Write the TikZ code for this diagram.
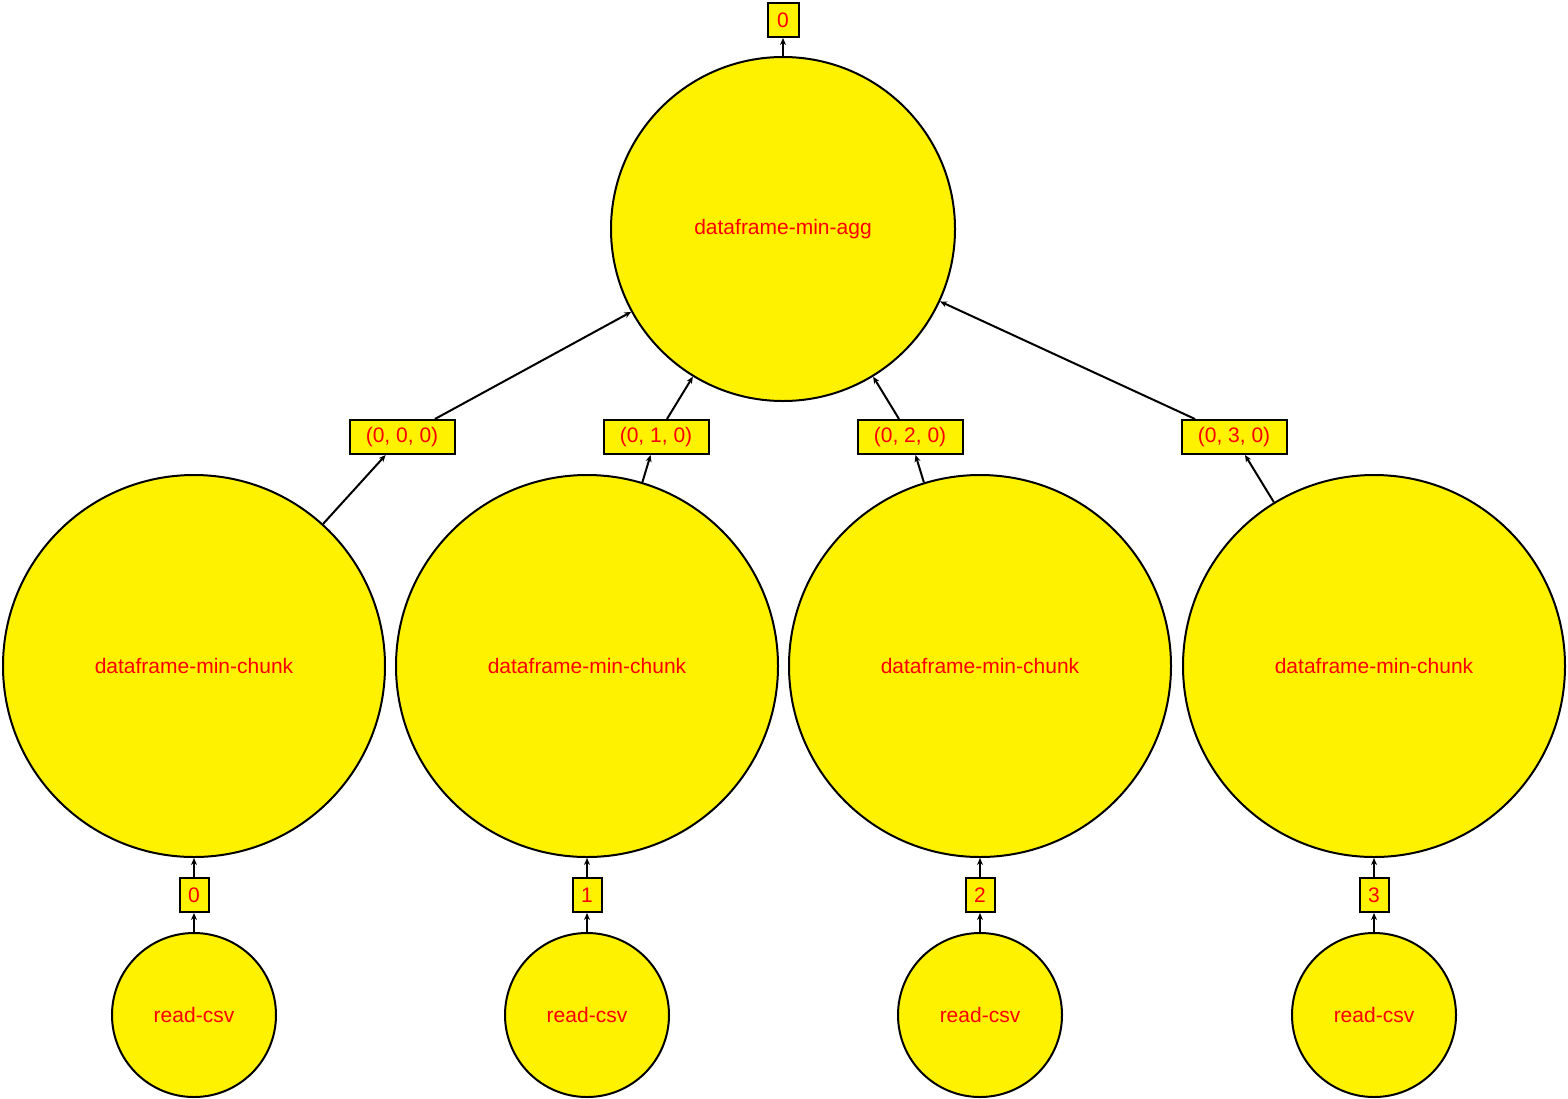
\documentclass[tikz,border=0pt]{standalone}
\usepackage{fontspec}
\setmainfont{Liberation Sans}
\usetikzlibrary{arrows.meta}
\begin{document}
\begin{tikzpicture}[x=1pt,y=-1pt,
  task/.style={circle,draw=black,fill=yellow,line width=2pt,text=red,inner sep=0pt,minimum size=#1,font=\fontsize{21}{24}\selectfont},
  key/.style={rectangle,draw=black,fill=yellow,line width=2pt,text=red,inner sep=0pt,minimum height=34pt,minimum width=#1,font=\fontsize{21}{24}\selectfont},
  edge/.style={line width=2pt,-{Stealth[length=7pt,width=6pt]}}]
\useasboundingbox (0,0) rectangle (1568,1098);
\node[key=31pt] (top) at (783,20) {0};
\node[task=344pt] (agg) at (783,229) {dataframe-min-agg};
\foreach \i/\cx/\bx in {0/194/402,1/587/656,2/980/910,3/1374/1234}{
  \node[key=105pt] (t\i) at (\bx,437) {(0, \i, 0)};
  \node[task=382pt] (c\i) at (\cx,666) {dataframe-min-chunk};
  \node[key=29pt] (k\i) at (\cx,895) {\i};
  \node[task=164pt] (r\i) at (\cx,1015) {read-csv};
  \draw[edge] (r\i) -- (k\i);
  \draw[edge] (k\i) -- (c\i);
  \draw[edge] (c\i) -- (t\i);
  \draw[edge] (t\i) -- (agg);
}
\draw[edge] (agg) -- (top);
\end{tikzpicture}
\end{document}
